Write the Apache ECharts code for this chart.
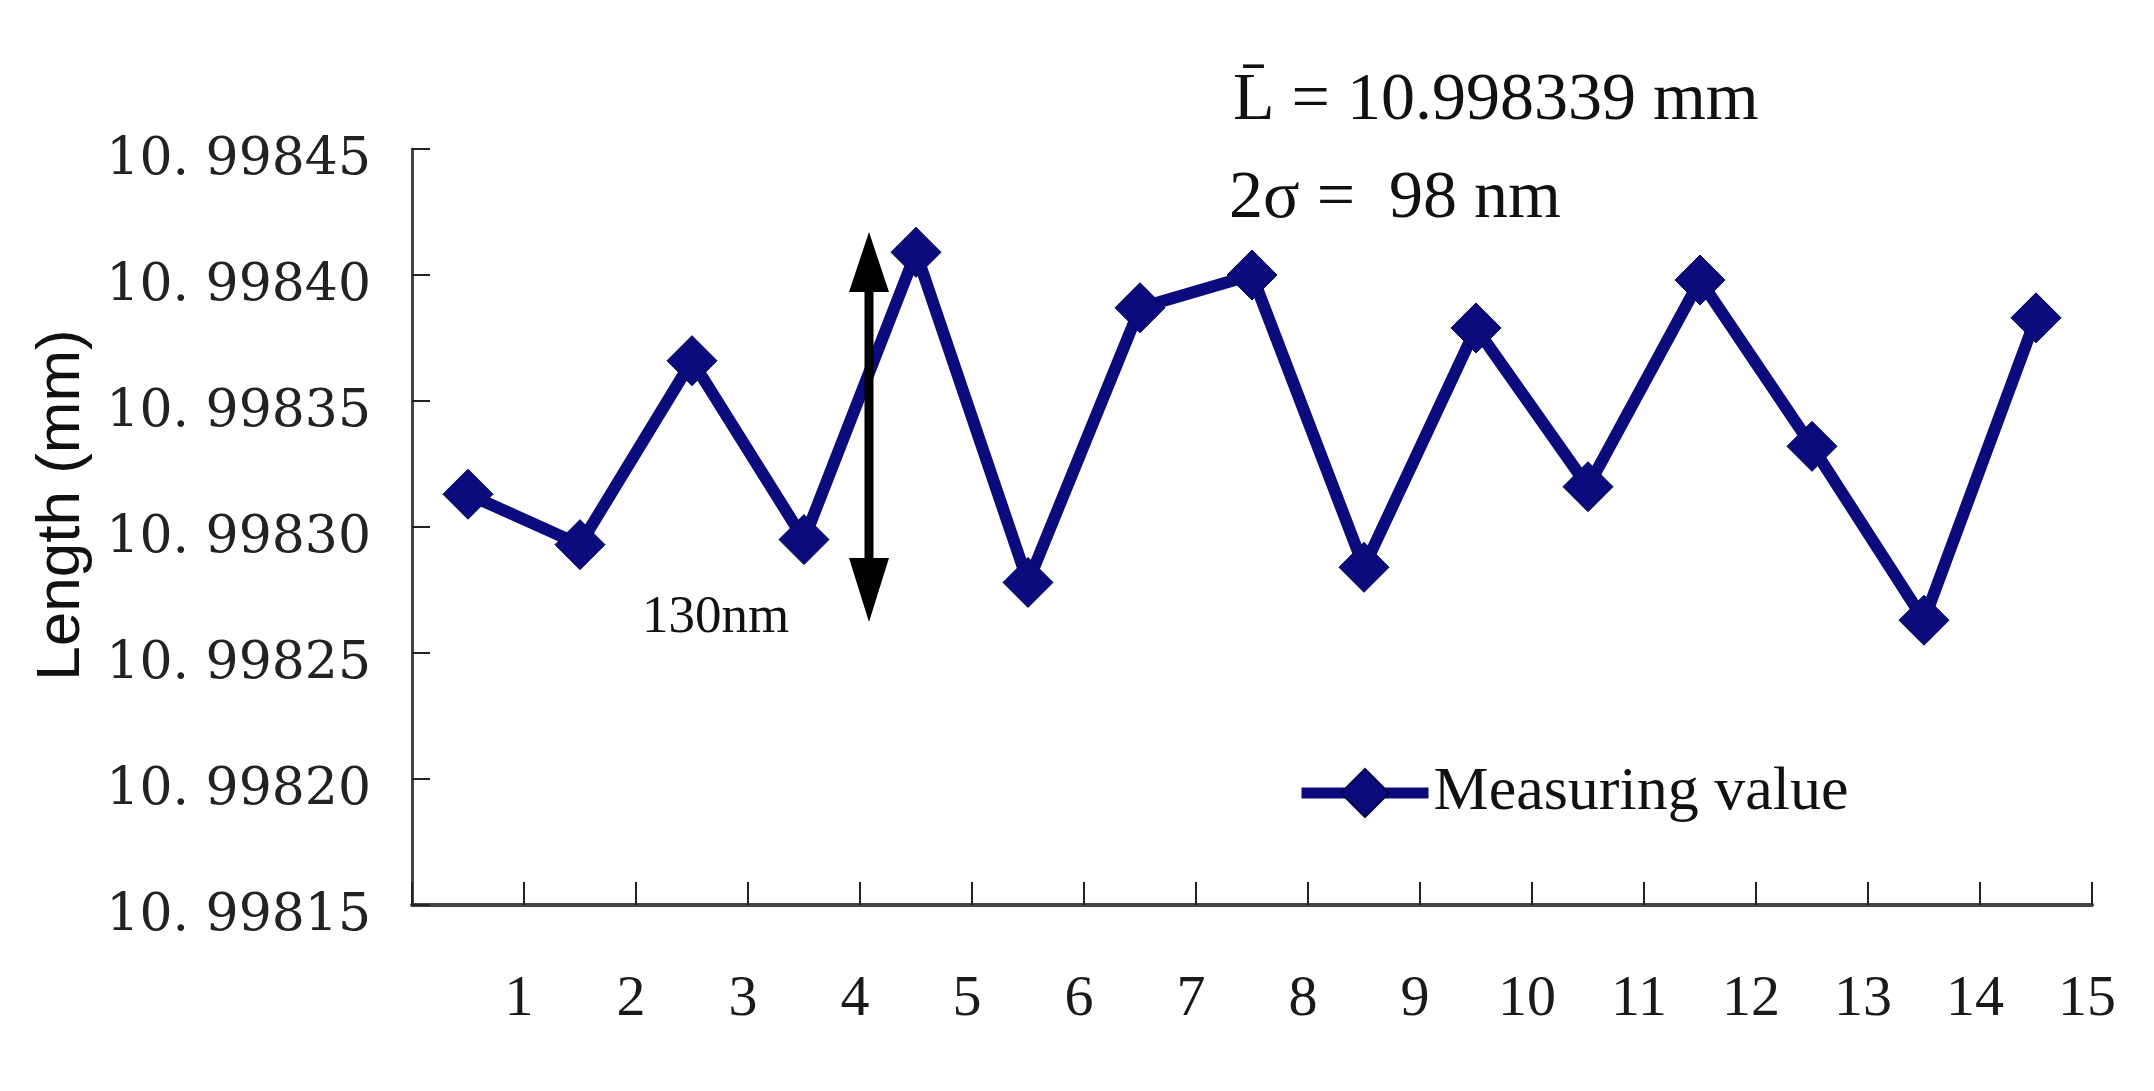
<!DOCTYPE html>
<html>
<head>
<meta charset="utf-8">
<script src="https://cdn.jsdelivr.net/npm/echarts@6/dist/echarts.min.js"></script>
<style>
  html, body { margin: 0; padding: 0; background: #ffffff; }
  #chart { width: 2154px; height: 1091px; }
</style>
</head>
<body>
<div id="chart"></div>
<script>
// ---- data ----
const measurementIndex = ['1','2','3','4','5','6','7','8','9','10','11','12','13','14','15'];
const lengthValues = [10.998313, 10.998293, 10.998366, 10.998295, 10.998409, 10.998278, 10.998387,
                      10.998400, 10.998284, 10.998379, 10.998316, 10.998398, 10.998332, 10.998263, 10.998383];
const xTickLabels = ['1','2','3','4','5','6','7','8','9','10','11','12','13','14','15'];
const yMin = 10.99815;
const yMax = 10.99845;
const yStep = 0.00005;
const seriesName = 'Measuring value';
const meanText = 'L\u0304 = 10.998339 mm';
const sigmaText = '2\u03c3 =  98 nm';
const rangeText = '130nm';

const chart = echarts.init(document.getElementById('chart'), null, { renderer: 'canvas' });

const navy = '#0b0b7e';
const axisGray = '#444444';

const option = {
  backgroundColor: '#ffffff',
  animation: false,
  grid: { left: 412, right: 62, top: 149, bottom: 186, outerBoundsMode: 'none' },
  legend: {
    data: [seriesName],
    left: 1291, top: 757,
    itemWidth: 127, itemHeight: 60,
    lineStyle: { width: 11, color: navy },
    textStyle: { fontFamily: 'Liberation Serif', fontSize: 62, color: '#111' },
    selectedMode: false
  },
  xAxis: [
    {
      type: 'category',
      data: measurementIndex,
      boundaryGap: true,
      position: 'bottom',
      axisLine: { show: true, lineStyle: { color: axisGray, width: 4 } },
      axisTick: { show: true, inside: true, length: 23, lineStyle: { color: '#222', width: 2 } },
      axisLabel: { show: false },
      splitLine: { show: false }
    },
    {
      type: 'category',
      data: [''].concat(xTickLabels),
      boundaryGap: false,
      position: 'bottom',
      axisLine: { show: false },
      axisTick: { show: false },
      axisLabel: {
        show: true, interval: 0, margin: 66,
        fontFamily: 'Liberation Serif', fontSize: 58, color: '#1a1a1a',
        padding: [0, 10, 0, 0]
      },
      splitLine: { show: false }
    }
  ],
  yAxis: {
    type: 'value',
    min: yMin, max: yMax, interval: yStep,
    name: 'Length (mm)',
    nameLocation: 'middle',
    nameGap: 319,
    nameTextStyle: { fontFamily: 'Liberation Sans', fontSize: 62, color: '#111', padding: [0, 0, 0, 44] },
    axisLine: { show: true, lineStyle: { color: axisGray, width: 3 } },
    axisTick: { show: true, inside: true, length: 18, lineStyle: { color: '#222', width: 2 } },
    axisLabel: {
      margin: 41,
      formatter: v => '{t|' + v.toFixed(5).replace('.', '. ') + '}',
      rich: {
        t: { fontFamily: 'DejaVu Serif', fontSize: 52, color: '#222', padding: [22, 0, 0, 0] }
      }
    },
    splitLine: { show: false }
  },
  series: [{
    name: seriesName,
    type: 'line',
    xAxisIndex: 0,
    data: lengthValues,
    symbol: 'diamond',
    symbolSize: 50,
    lineStyle: { color: navy, width: 12 },
    itemStyle: { color: navy, borderColor: '#05054a', borderWidth: 1 },
    z: 3
  }],
  graphic: [
    { type: 'text', left: 1233, top: 67,
      style: { text: meanText, fontFamily: 'Liberation Serif', fontSize: 68, fill: '#111' } },
    { type: 'text', left: 1229, top: 165,
      style: { text: sigmaText, fontFamily: 'Liberation Serif', fontSize: 68, fill: '#111' } },
    { type: 'text', left: 642, top: 592,
      style: { text: rangeText, fontFamily: 'Liberation Serif', fontSize: 53, fill: '#111' } },
    { type: 'line', shape: { x1: 869, y1: 288, x2: 869, y2: 562 },
      style: { stroke: '#000', lineWidth: 9 }, z: 10 },
    { type: 'polygon', shape: { points: [[869, 232], [849, 292], [889, 292]] },
      style: { fill: '#000' }, z: 10 },
    { type: 'polygon', shape: { points: [[869, 622], [849, 558], [889, 558]] },
      style: { fill: '#000' }, z: 10 }
  ]
};

chart.setOption(option);
</script>
</body>
</html>
